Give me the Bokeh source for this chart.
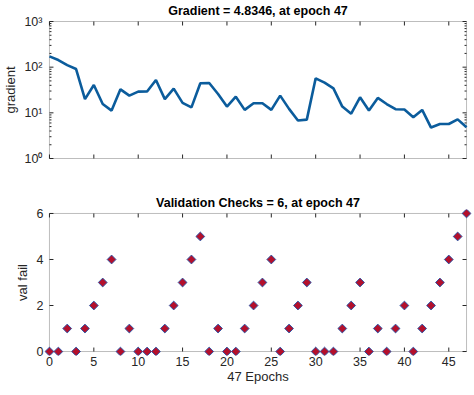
import math
from bokeh.plotting import figure
from bokeh.layouts import column
from bokeh.models import Range1d, FixedTicker, CustomJSTickFormatter, BoxAnnotation
from bokeh.embed import file_html
from bokeh.resources import INLINE

# ---- data ----
epochs = list(range(48))
gradient = [172, 143, 111, 91, 20, 40.7, 15.6, 11.2, 32.7, 23.8,
            29.1, 29.3, 52.4, 20, 33.8, 16.5, 13.2, 44.3, 45, 25.9,
            13.7, 22.6, 11.6, 16.2, 16.2, 11.6, 23.8, 12.2, 6.8, 7.1,
            57, 45.8, 34.4, 13.7, 9.6, 21.9, 11.2, 21.2, 15.6, 12,
            11.8, 8, 11.6, 4.76, 5.7, 5.7, 7.2, 4.8346]
val_fail = [0, 0, 1, 0, 1, 2, 3, 4, 0, 1,
            0, 0, 0, 1, 2, 3, 4, 5, 0, 1,
            0, 0, 1, 2, 3, 4, 0, 1, 2, 3,
            0, 0, 0, 1, 2, 3, 0, 1, 0, 1,
            2, 0, 1, 2, 3, 4, 5, 6]
x_lim = [0, 47]
grad_lim = [1, 1000]
val_lim = [0, 6]
x_ticks = [0, 5, 10, 15, 20, 25, 30, 35, 40, 45]
grad_ticks = [1, 10, 100, 1000]
grad_minor = [m * d for d in [1, 10, 100] for m in range(2, 10)]
val_ticks = [0, 2, 4, 6]

title1 = "Gradient = 4.8346, at epoch 47"
title2 = "Validation Checks = 6, at epoch 47"

AX = "#262626"
FONT = "Liberation Sans"

# layout (pixels): axes box 420 wide, 137/139 tall; frame padded around it
BOX_W, BOX_H1, BOX_H2 = 420, 137, 139
PAD_X, PAD_Y = 5, 4
BORDERS = dict(min_border_left=41, min_border_right=3,
               min_border_top=17, min_border_bottom=30)


def style_fig(p, txt):
    p.title.text = txt
    p.title.align = "center"
    p.title.text_font = FONT
    p.title.text_font_size = "12.5px"
    p.title.text_font_style = "bold"
    p.title.text_color = "#000000"
    p.title.standoff = 0
    p.outline_line_color = None
    p.xgrid.visible = False
    p.ygrid.visible = False
    p.background_fill_color = "white"
    p.border_fill_color = "white"


def style_axis(ax, standoff, label_standoff):
    ax.axis_line_color = None
    ax.major_tick_line_color = None
    ax.minor_tick_line_color = None
    ax.major_tick_in = 0
    ax.major_tick_out = 0
    ax.minor_tick_in = 0
    ax.minor_tick_out = 0
    ax.major_label_text_font = FONT
    ax.major_label_text_color = AX
    ax.major_label_text_font_size = "12.5px"
    ax.major_label_standoff = standoff
    ax.axis_label_text_font = FONT
    ax.axis_label_text_font_size = "13px"
    ax.axis_label_text_font_style = "normal"
    ax.axis_label_text_color = AX
    ax.axis_label_standoff = label_standoff


def draw_box(p, xl, yl, xt, yt, yminor=None):
    p.add_layout(BoxAnnotation(left=xl[0], right=xl[1], bottom=yl[0], top=yl[1],
                               fill_color=None, line_color=AX, line_width=1,
                               level="underlay"))
    st = dict(length_units="screen", line_color=AX, line_width=1)
    p.ray(x=xt, y=[yl[0]] * len(xt), angle=math.pi / 2, length=4, **st)
    p.ray(x=xt, y=[yl[1]] * len(xt), angle=-math.pi / 2, length=4, **st)
    p.ray(x=[xl[0]] * len(yt), y=yt, angle=0, length=4, **st)
    p.ray(x=[xl[1]] * len(yt), y=yt, angle=math.pi, length=4, **st)
    if yminor:
        p.ray(x=[xl[0]] * len(yminor), y=yminor, angle=0, length=2, **st)
        p.ray(x=[xl[1]] * len(yminor), y=yminor, angle=math.pi, length=2, **st)


sup = CustomJSTickFormatter(code="""
const s = {"0": "\u2070", "1": "\u00b9", "2": "\u00b2", "3": "\u00b3"};
const e = Math.round(Math.log10(tick));
return "10" + s[String(e)];
""")

pad_x = PAD_X * (x_lim[1] - x_lim[0]) / BOX_W
x_range1 = Range1d(x_lim[0] - pad_x, x_lim[1] + pad_x)
x_range2 = Range1d(x_lim[0] - pad_x, x_lim[1] + pad_x)

# ---- top: gradient ----
decades = math.log10(grad_lim[1] / grad_lim[0])
gpad = 10 ** (PAD_Y * decades / BOX_H1)
p1 = figure(width=474, height=192, output_backend="svg", toolbar_location=None,
            y_axis_type="log", x_range=x_range1,
            y_range=Range1d(grad_lim[0] / gpad, grad_lim[1] * gpad), **BORDERS)
style_fig(p1, title1)
draw_box(p1, x_lim, grad_lim, x_ticks, grad_ticks, grad_minor)
p1.line(epochs, gradient, line_width=2.6, color="#0b5c9c")
p1.xaxis.visible = False
p1.yaxis.ticker = FixedTicker(ticks=grad_ticks)
p1.yaxis.formatter = sup
p1.yaxis.axis_label = "gradient"
style_axis(p1.yaxis[0], 2, 3)

# ---- bottom: validation checks ----
vpad = PAD_Y * (val_lim[1] - val_lim[0]) / BOX_H2
p2 = figure(width=474, height=194, output_backend="svg", toolbar_location=None,
            x_range=x_range2,
            y_range=Range1d(val_lim[0] - vpad, val_lim[1] + vpad), **BORDERS)
style_fig(p2, title2)
draw_box(p2, x_lim, val_lim, x_ticks, val_ticks)
p2.scatter(epochs, val_fail, marker="square", angle=math.pi / 4, size=6.2,
           fill_color="#b3102c", line_color="#2f56a6", line_width=1)
p2.xaxis.ticker = FixedTicker(ticks=x_ticks)
p2.xaxis.axis_label = "47 Epochs"
style_axis(p2.xaxis[0], 1, 0)
p2.yaxis.ticker = FixedTicker(ticks=val_ticks)
p2.yaxis.axis_label = "val fail"
style_axis(p2.yaxis[0], 1, 4)

layout = column(p1, p2, spacing=0)
open("out.html", "w").write(file_html(layout, INLINE))
